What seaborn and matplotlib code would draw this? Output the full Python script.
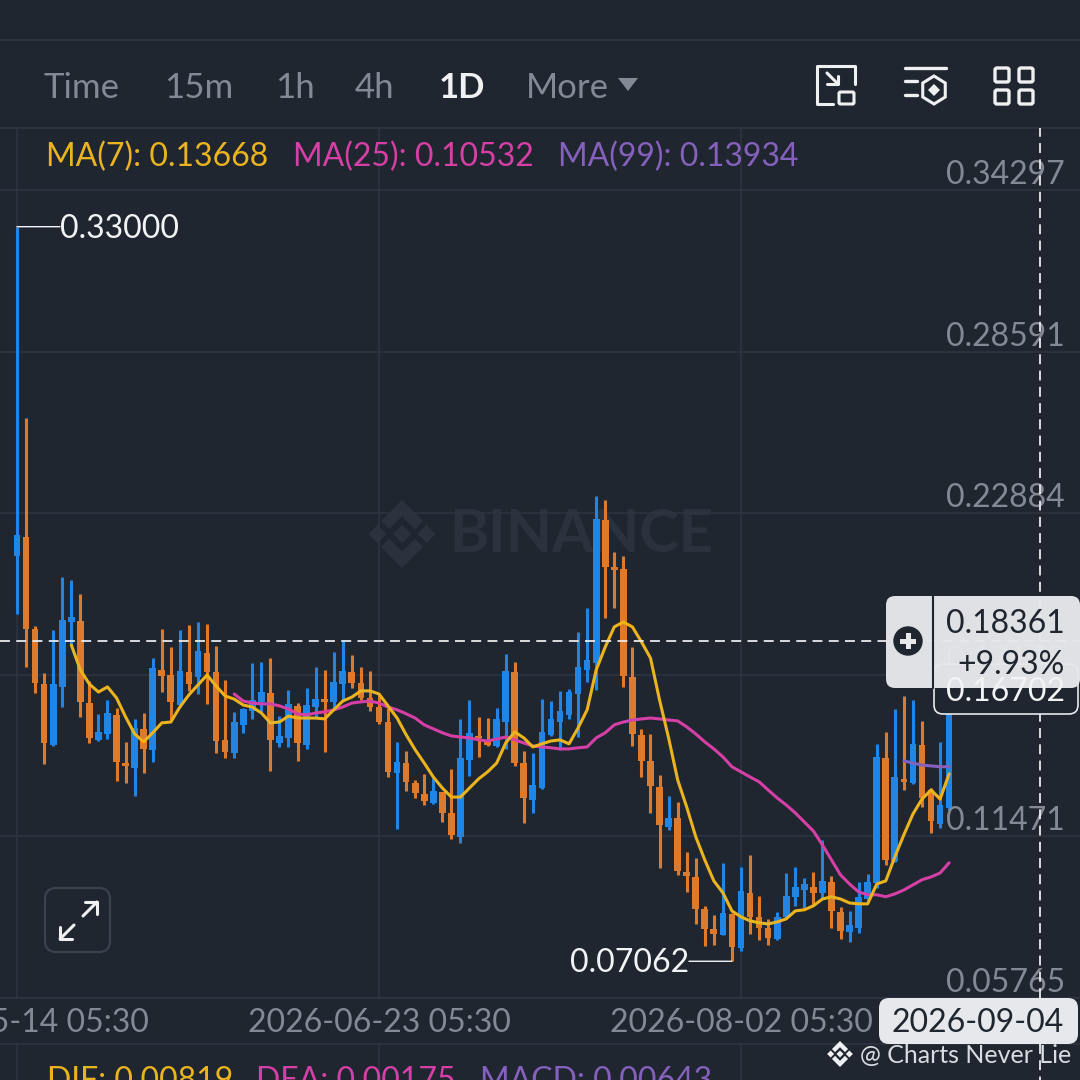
import numpy as np
import pandas as pd
import seaborn as sns
import matplotlib
matplotlib.use("Agg")
import matplotlib.pyplot as plt
from matplotlib.patches import FancyBboxPatch, Polygon, Circle

opens = [.2137,.2204,.1880,.1685,.1470,.1675,.1904,.1908,.1618,.1488,.1509,.1576,.1406,.1389,.1527,.1453,.1735,.1717,.1611,.1728,
         .1710,.1795,.1728,.1488,.1442,.1541,.1590,.1622,.1654,.1477,.1495,.1608,.1470,.1604,.1632,.1622,.1685,.1728,.1689,.1636,
         .1604,.1551,.1371,.1406,.1336,.1297,.1265,.1304,.1230,.1146,.1417,.1502,.1481,.1467,.1551,.1728,.1406,.1276,.1318,.1506,
         .1551,.1576,.1650,.1735,.1759,.2265,.2099,.2092,.1710,.1506,.1414,.1322,.1181,.1212,.1022,.1004,.0891,.0820,.0799,.0873,
         .0754,.0948,.0863,.0824,.0785,.0863,.0934,.0958,.0969,.0948,.0987,.0881,.0810,.0824,.0926,.0983,.1424,.1061,.1350,.1336,
         .1470,.1311,.1191,.1248]
highs = [.3300,.2624,.1890,.1724,.1876,.2063,.2053,.2003,.1696,.1580,.1629,.1601,.1481,.1562,.1583,.1777,.1880,.1816,.1876,.1894,
         .1904,.1897,.1820,.1700,.1587,.1601,.1759,.1763,.1777,.1572,.1664,.1618,.1671,.1746,.1735,.1798,.1837,.1788,.1746,.1731,
         .1647,.1601,.1481,.1449,.1347,.1368,.1354,.1304,.1385,.1562,.1629,.1569,.1565,.1601,.1791,.1763,.1449,.1442,.1632,.1625,
         .1661,.1668,.1869,.1954,.2349,.2335,.2152,.2138,.1816,.1527,.1509,.1364,.1290,.1269,.1093,.1071,.0902,.0870,.1054,.0877,
         .1040,.1082,.0937,.0856,.0881,.1018,.1040,.1001,.1022,.1135,.1008,.0898,.0884,.0987,.1015,.1474,.1516,.1597,.1643,.1629,
         .1555,.1318,.1481,.1675]
lows = [.1933,.1746,.1654,.1403,.1467,.1604,.1823,.1569,.1477,.1484,.1491,.1343,.1336,.1290,.1371,.1410,.1657,.1558,.1604,.1661,
        .1650,.1615,.1442,.1425,.1425,.1513,.1562,.1587,.1378,.1463,.1463,.1414,.1456,.1569,.1446,.1601,.1629,.1671,.1629,.1590,
        .1544,.1357,.1174,.1308,.1283,.1258,.1262,.1198,.1138,.1124,.1361,.1428,.1467,.1463,.1456,.1396,.1195,.1230,.1315,.1502,
        .1453,.1562,.1498,.1692,.1664,.1918,.1954,.1675,.1467,.1357,.1230,.1036,.1170,.1011,.0951,.0838,.0761,.0764,.0799,.07062,
        .0743,.0803,.0782,.0764,.0782,.0859,.0902,.0895,.0902,.0926,.0824,.0785,.0775,.0806,.0919,.0965,.1047,.1057,.1311,.1333,
        .1251,.1160,.1177,.1241]
closes = [.2211,.1880,.1689,.1477,.1685,.1911,.1922,.1622,.1495,.1516,.1583,.1410,.1396,.1530,.1456,.1742,.1714,.1622,.1731,.1685,
          .1802,.1728,.1484,.1446,.1551,.1597,.1629,.1657,.1488,.1502,.1615,.1477,.1611,.1632,.1622,.1692,.1731,.1689,.1636,.1604,
          .1551,.1375,.1410,.1340,.1301,.1272,.1308,.1230,.1153,.1424,.1513,.1495,.1470,.1562,.1731,.1406,.1283,.1329,.1516,.1562,
          .1590,.1657,.1746,.1770,.2268,.2099,.2088,.1714,.1509,.1414,.1325,.1188,.1212,.1026,.1008,.0891,.0820,.0803,.0877,.0757,
          .0955,.0863,.0824,.0789,.0863,.0937,.0969,.0979,.0948,.0990,.0884,.0813,.0835,.0934,.0987,.1428,.1064,.1357,.1340,.1474,
          .1283,.1202,.1258,.16702]

ma7 = [.1823,.1735,.1685,.1657,.1675,.1636,.1569,.1509,.1481,.1513,.1548,.1551,.1604,.1647,.1682,.1717,.1678,.1643,.1632,.1611,
       .1604,.1583,.1548,.1551,.1572,.1565,.1565,.1565,.1562,.1594,.1625,.1639,.1661,.1661,.1650,.1608,.1565,.1506,.1453,.1406,
       .1357,.1318,.1286,.1286,.1318,.1350,.1375,.1406,.1477,.1516,.1495,.1463,.1474,.1484,.1488,.1474,.1530,.1594,.1735,.1816,
       .1887,.1904,.1887,.1834,.1777,.1629,.1495,.1347,.1251,.1146,.1064,.0990,.0948,.0884,.0863,.0849,.0842,.0838,.0845,.0856,
       .0884,.0888,.0902,.0926,.0934,.0926,.0912,.0909,.0909,.0979,.0990,.1075,.1153,.1226,.1279,.1311,.1279,.1368]
ma25 = [.1650,.1625,.1618,.1615,.1615,.1608,.1597,.1580,.1576,.1583,.1587,.1594,.1604,.1618,.1622,.1625,.1618,.1604,.1594,.1580,
        .1565,.1541,.1527,.1513,.1502,.1498,.1495,.1488,.1484,.1491,.1498,.1488,.1477,.1467,.1463,.1460,.1456,.1456,.1460,.1463,
        .1495,.1513,.1541,.1551,.1558,.1562,.1565,.1562,.1558,.1555,.1534,.1509,.1481,.1456,.1428,.1393,.1375,.1357,.1340,.1311,
        .1283,.1258,.1230,.1198,.1166,.1117,.1064,.1011,.0979,.0951,.0941,.0941,.0934,.0944,.0958,.0976,.0994,.1004,.1018,.1054]
ma99 = [.1414,.1406,.1399,.1396,.1393,.1393]

price_ticks = [.34297, .28591, .22884, .17178, .11471, .05765]
date_ticks = [0, 40, 80]
date_labels = ["2026-05-14 05:30", "2026-06-23 05:30", "2026-08-02 05:30"]
cross_idx = 113
cross_price = .18361
last_price = .16702

BG = "#1f2630"
GRID = "#2e3540"
UP = "#2185e6"
DOWN = "#de7a2b"
YEL = "#ebb41f"
PINK = "#d63fa6"
PURP = "#8660bd"
GRAY = "#838a95"
LIGHT = "#e6e8eb"
DARK = "#1f2630"
FS = 23

sns.set_theme(style="dark", rc={"axes.facecolor": "none", "figure.facecolor": BG, "axes.edgecolor": BG})
plt.rcParams["font.family"] = ["Lato", "DejaVu Sans"]

fig = plt.figure(figsize=(10.8, 10.8), dpi=100)

# pixel-space layers for the app chrome, below and above the chart
def overlay(z):
    a = fig.add_axes([0, 0, 1, 1], zorder=z)
    a.set_xlim(0, 1080)
    a.set_ylim(1080, 0)
    a.axis("off")
    return a

back = overlay(0)
front = overlay(5)

ax = fig.add_axes([0, 82 / 1080, 1, 870 / 1080], zorder=2)
ax.set_xlim(-1.878, 117.46)
ax.set_ylim(.05765, .36485)
sns.despine(ax=ax, left=True, bottom=True)

ax.set_yticks(price_ticks)
ax.set_yticklabels([])
ax.set_xticks(date_ticks)
ax.set_xticklabels(date_labels, fontsize=FS, color=GRAY)
ax.tick_params(length=0)
ax.tick_params(axis="x", pad=7.5)
ax.grid(True, color=GRID, lw=1.1)
ax.set_axisbelow(True)

df = pd.DataFrame({"open": opens, "high": highs, "low": lows, "close": closes})
df["idx"] = np.arange(len(df))
df["up"] = df["close"] >= df["open"]
for is_up, col in [(True, UP), (False, DOWN)]:
    sub = df[df["up"] == is_up]
    ax.vlines(sub["idx"], sub["low"], sub["high"], color=col, lw=2.2, zorder=3)
    ax.bar(sub["idx"], (sub["close"] - sub["open"]).abs(), bottom=sub[["open", "close"]].min(axis=1),
           width=.74, color=col, linewidth=0, zorder=3)

for vals, col in [(ma99, PURP), (ma25, PINK), (ma7, YEL)]:
    line = pd.DataFrame({"idx": np.arange(len(df) - len(vals), len(df)), "ma": vals})
    sns.lineplot(data=line, x="idx", y="ma", color=col, lw=2.2, ax=ax, legend=False, zorder=4, errorbar=None)
ax.set_xlabel("")
ax.set_ylabel("")

# price labels sit just above their grid lines
for p in price_ticks:
    ax.annotate(f"{p:.5f}", xy=(1, p), xycoords=ax.get_yaxis_transform(), xytext=(-15, 15),
                textcoords="offset pixels", ha="right", va="center", fontsize=FS, color=GRAY, zorder=3)

# high / low callouts
for price, i, side in [(highs[0], 0, 1), (min(lows), lows.index(min(lows)), -1)]:
    ax.annotate("", xy=(i, price), xytext=(43 * side, 0), textcoords="offset pixels",
                arrowprops=dict(arrowstyle="-", color="#f2f3f5", lw=1, shrinkA=0, shrinkB=0), zorder=6)
    ax.annotate(f"{price:.5f}", xy=(i, price), xytext=(43 * side, -2), textcoords="offset pixels",
                ha="left" if side > 0 else "right", va="center", fontsize=FS, color="#f2f3f5", zorder=6)

# crosshair
dash = (0, (5.5, 3.5))
ax.axhline(cross_price, color="#e8eaed", lw=1.3, ls=dash, zorder=5)
ax.axvline(cross_idx, color="#e8eaed", lw=1.3, ls=dash, zorder=5)

# background chrome
for y in [40, 128, 998, 1044]:
    back.plot([0, 1080], [y, y], color="#2b323d", lw=1.5)
for x in [17, 379, 741]:
    back.plot([x, x], [1044, 1080], color=GRID, lw=1.1)


def logo(a, cx, cy, r, col, z=1):
    d = r * .27
    for dx, dy in [(0, 0), (-r * .72, 0), (r * .72, 0)]:
        a.add_patch(Polygon([(cx + dx - d, cy + dy), (cx + dx, cy + dy - d), (cx + dx + d, cy + dy), (cx + dx, cy + dy + d)],
                            color=col, lw=0, zorder=z))
    for s in (-1, 1):
        a.add_patch(Polygon([(cx, cy + s * r), (cx + r * .62, cy + s * r * .38), (cx + r * .38, cy + s * r * .14),
                             (cx, cy + s * r * .52), (cx - r * .38, cy + s * r * .14), (cx - r * .62, cy + s * r * .38)],
                            color=col, lw=0, zorder=z))


logo(back, 402, 534, 34, "#2b323d")
back.text(449, 535, "BINANCE", fontsize=43, fontweight="bold", color="#2b323d", va="center", ha="left")

# tabs
for x, s in [(44, "Time"), (164, "15m"), (275, "1h"), (355, "4h"), (526, "More")]:
    front.text(x, 88, s, fontsize=25, color=GRAY, va="center", ha="left")
front.text(439, 88, "1D", fontsize=25, color="#f0f1f3", fontweight="bold", va="center", ha="left")
front.add_patch(Polygon([(618, 78), (638, 78), (628, 91)], color=GRAY, lw=0))

# legend row
for x, s, col in [(46, "MA(7): 0.13668", YEL), (293, "MA(25): 0.10532", PINK), (558, "MA(99): 0.13934", PURP)]:
    front.text(x, 157, s, fontsize=FS, color=col, va="center", ha="left")

# toolbar icons
ICON = "#eef0f2"
front.plot([855, 855, 817, 817, 833], [84, 66, 66, 104, 104], color=ICON, lw=2.2, solid_capstyle="round")
front.add_patch(FancyBboxPatch((839, 92), 15, 12, boxstyle="round,pad=0,rounding_size=1.5", fc="none", ec=ICON, lw=2.2))
front.plot([827, 838], [73, 84], color=ICON, lw=2.2)
front.plot([827, 838, 838], [84, 84, 76], color=ICON, lw=2.2)
front.plot([905, 946], [68, 68], color=ICON, lw=2.4, solid_capstyle="round")
front.plot([905, 917], [81, 81], color=ICON, lw=2.4, solid_capstyle="round")
front.plot([905, 917], [95, 95], color=ICON, lw=2.4, solid_capstyle="round")
ang = np.radians(np.arange(30, 390, 60))
front.add_patch(Polygon(np.c_[934 + 13 * np.cos(ang), 90 + 14 * np.sin(ang)], fc="none", ec=ICON, lw=2.2))
front.add_patch(Polygon([(928, 90), (934, 84), (940, 90), (934, 96)], color=ICON, lw=0))
for x in [995, 1019]:
    for y in [68, 90]:
        front.add_patch(FancyBboxPatch((x, y), 14, 14, boxstyle="round,pad=0,rounding_size=2", fc="none", ec=ICON, lw=2.4))

# expand button
front.add_patch(FancyBboxPatch((45, 888), 65, 64, boxstyle="round,pad=0,rounding_size=11", fc=BG, ec="#3a424e", lw=1.6))
front.plot([60, 74], [939, 925], color=ICON, lw=2.2)
front.plot([83, 97], [916, 902], color=ICON, lw=2.2)
front.plot([60, 60, 72], [927, 939, 939], color=ICON, lw=2.2)
front.plot([85, 97, 97], [902, 902, 914], color=ICON, lw=2.2)

# last price box, then the crosshair tooltip over it
front.add_patch(FancyBboxPatch((934, 664), 144, 50, boxstyle="round,pad=0,rounding_size=9", fc=BG, ec="#e6e8eb", lw=1.2, zorder=2))
front.add_patch(FancyBboxPatch((886, 596), 194, 92, boxstyle="round,pad=0,rounding_size=9", fc=LIGHT, ec="none", alpha=.97, zorder=3))
front.plot([932.5, 932.5], [596, 688], color=BG, lw=1.5, zorder=4)
front.add_patch(Circle((908, 641), 14, color=BG, zorder=4))
front.add_patch(Polygon([(905.5, 633), (910.5, 633), (910.5, 638.5), (916, 638.5), (916, 643.5), (910.5, 643.5), (910.5, 649),
                         (905.5, 649), (905.5, 643.5), (900, 643.5), (900, 638.5), (905.5, 638.5)], color=LIGHT, lw=0, zorder=5))
front.text(1065, 692, f"{last_price:.5f}", fontsize=FS, color="#f2f3f5", ha="right", va="center", zorder=5)
front.text(1065, 624, f"{cross_price:.5f}", fontsize=FS, color=DARK, ha="right", va="center", zorder=5)
front.text(1065, 665, "+9.93%", fontsize=FS, color=DARK, ha="right", va="center", zorder=5)

# date chip and footer
front.add_patch(FancyBboxPatch((879, 998), 199, 46, boxstyle="round,pad=0,rounding_size=10", fc=LIGHT, ec="none", zorder=3))
front.text(978, 1023, "2026-09-04", fontsize=FS, color=DARK, ha="center", va="center", zorder=4)
for x, s, col in [(47, "DIF: 0.00819", YEL), (256, "DEA: 0.00175", PINK), (480, "MACD: 0.00643", PURP)]:
    front.text(x, 1081, s, fontsize=FS, color=col, va="center", ha="left")
front.plot([1040, 1040], [1044, 1080], color="#e8eaed", lw=1.3, ls=dash, zorder=3)
logo(front, 840, 1054, 13, "#f0f1f3", z=4)
front.text(860, 1055, "@ Charts Never Lie", fontsize=18, color="#d9dce0", va="center", ha="left", zorder=4)

fig.savefig("out.png", dpi=100, facecolor=BG)
